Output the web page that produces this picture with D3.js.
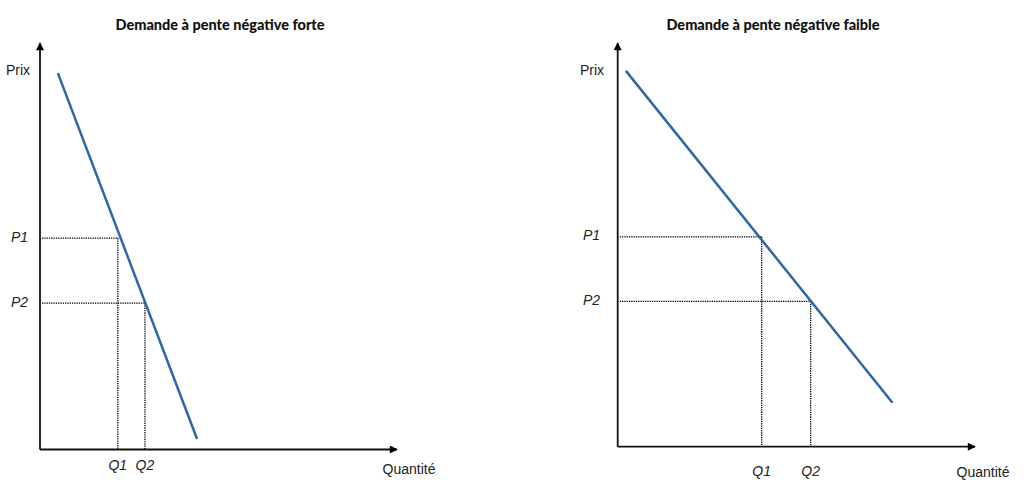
<!DOCTYPE html>
<html><head><meta charset="utf-8">
<script src="https://cdn.jsdelivr.net/npm/d3@7"></script>
<style>body{margin:0;background:#fff}svg{display:block}</style>
</head><body>
<svg id="c" width="1024" height="498"></svg>
<script>
// ---- data ----
const titles = ["Demande à pente négative forte", "Demande à pente négative faible"];
const priceLevels = [52, 36];            // P1, P2
const priceLabels = ["P1", "P2"];
const quantityLabels = ["Q1", "Q2"];
const steepDemand = [[5, 92.6], [44, 2.6]];        // (quantité, prix)
const steepQuantities = [21.8, 29.4];              // Q1, Q2
const flatDemand = [[2.3, 93.1], [76.9, 10.9]];
const flatQuantities = [40.3, 54];
const axisLabels = {x: "Quantité", y: "Prix"};

// ---- layout ----
const panels = [
  {title: titles[0], demand: steepDemand, q: steepQuantities,
   x0: 40, x1: 397, yBottom: 449.5, yTop: 43, titleX: 220,
   prixX: 30, pLabX: 28, qLabDy: 17, quantX: 409, quantY: 470},
  {title: titles[1], demand: flatDemand, q: flatQuantities,
   x0: 617.7, x1: 975, yBottom: 446.7, yTop: 43, titleX: 773,
   prixX: 604, pLabX: 600, qLabDy: 26, quantX: 983, quantY: 473}
];

const svg = d3.select("#c");
const defs = svg.append("defs");
defs.append("marker").attr("id","arr").attr("viewBox","0 0 10 10")
  .attr("refX",9).attr("refY",5).attr("markerWidth",9).attr("markerHeight",8)
  .attr("markerUnits","userSpaceOnUse").attr("orient","auto")
  .append("path").attr("d","M0,0L10,5L0,10Z").attr("fill","#000");

const textFont = "'Liberation Sans', Arial, sans-serif";

panels.forEach(p => {
  const x = d3.scaleLinear().domain([0,100]).range([p.x0, p.x1]);
  const y = d3.scaleLinear().domain([0,100]).range([p.yBottom, p.yTop]);
  const g = svg.append("g");

  // title
  g.append("text").attr("x", p.titleX).attr("y", 26).attr("text-anchor","middle")
    .attr("dominant-baseline","middle").attr("font-family","Lato, 'Open Sans', sans-serif")
    .attr("font-weight",900).attr("font-size",14.5).attr("fill","#111").text(p.title);

  // axes
  g.append("line").attr("x1", x(0)).attr("y1", y(0)).attr("x2", x(0)).attr("y2", y(100))
    .attr("stroke","#111").attr("stroke-width",1.8).attr("marker-end","url(#arr)");
  g.append("line").attr("x1", x(0)).attr("y1", y(0)).attr("x2", x(100)).attr("y2", y(0))
    .attr("stroke","#111").attr("stroke-width",1.8).attr("marker-end","url(#arr)");

  // dotted guides
  priceLevels.forEach((pl, i) => {
    const qv = p.q[i];
    g.append("line").attr("x1", x(0)+2).attr("x2", x(qv)).attr("y1", y(pl)).attr("y2", y(pl))
      .attr("stroke","#000").attr("stroke-width",1.3).attr("stroke-dasharray","1.3,1");
    g.append("line").attr("x1", x(qv)).attr("x2", x(qv)).attr("y1", y(pl)).attr("y2", y(0))
      .attr("stroke","#000").attr("stroke-width",1.3).attr("stroke-dasharray","1.3,1");
    g.append("text").attr("x", p.pLabX).attr("y", y(pl)).attr("text-anchor","end")
      .attr("dominant-baseline","middle").attr("font-family",textFont).attr("font-style","italic")
      .attr("font-size",14).attr("fill","#222").text(priceLabels[i]);
    g.append("text").attr("x", x(qv)).attr("y", y(0)+p.qLabDy).attr("text-anchor","middle")
      .attr("dominant-baseline","middle").attr("font-family",textFont).attr("font-style","italic")
      .attr("font-size",14).attr("fill","#222").text(quantityLabels[i]);
  });

  // demand line
  g.append("path").datum(p.demand)
    .attr("d", d3.line().x(d => x(d[0])).y(d => y(d[1])))
    .attr("fill","none").attr("stroke","#2E66A6").attr("stroke-width",2.5);

  // axis labels
  g.append("text").attr("x", p.prixX).attr("y", 71).attr("text-anchor","end")
    .attr("dominant-baseline","middle").attr("font-family",textFont)
    .attr("font-size",14).attr("fill","#222").text(axisLabels.y);
  g.append("text").attr("x", p.quantX).attr("y", p.quantY).attr("text-anchor","middle")
    .attr("dominant-baseline","middle").attr("font-family",textFont)
    .attr("font-size",14).attr("fill","#222").text(axisLabels.x);
});
</script>
</body></html>
